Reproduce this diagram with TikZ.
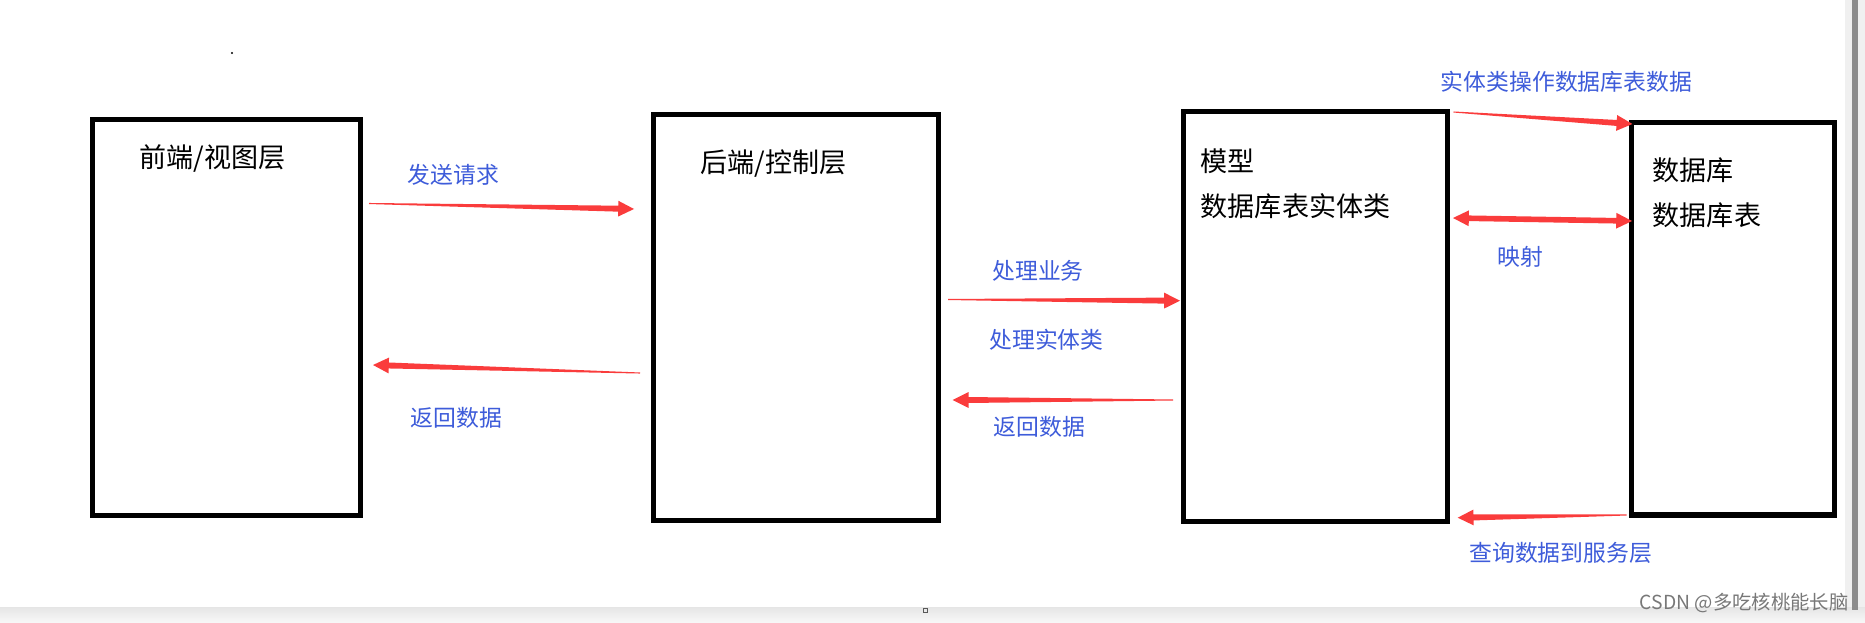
\documentclass[tikz,border=0pt]{standalone}
\usepackage{fontspec}
\setmainfont{Noto Sans CJK SC}
\usetikzlibrary{calc}
\definecolor{pRed}{RGB}{250,60,60}
\definecolor{pBlue}{RGB}{62,92,218}
\definecolor{pMark}{gray}{0.47}
\definecolor{pBar}{gray}{0.55}
\definecolor{pBand}{gray}{0.94}
\tikzset{
    layer/.style={draw, line width=2.9pt, inner sep=0pt},
    title/.style={anchor=west, inner sep=0pt, font=\fontsize{15.4}{18}\selectfont},
    note/.style={anchor=west, inner sep=0pt, text=pBlue, font=\fontsize{13}{16}\selectfont},
    flow/.style={fill=pRed, to path={
        -- ($(\tikztostart)!0.3pt!90:(\tikztotarget)$)
        -- ($(\tikztotarget)!9pt!(\tikztostart)!1.7pt!90:(\tikztotarget)$)
        -- ($(\tikztotarget)!9pt!(\tikztostart)!4.5pt!90:(\tikztotarget)$)
        -- (\tikztotarget)
        -- ($(\tikztotarget)!9pt!(\tikztostart)!4.5pt!-90:(\tikztotarget)$)
        -- ($(\tikztotarget)!9pt!(\tikztostart)!1.7pt!-90:(\tikztotarget)$)
        -- ($(\tikztostart)!0.3pt!-90:(\tikztotarget)$)
        -- cycle}},
    flows/.style={fill=pRed, to path={
        -- ($(\tikztostart)!9pt!(\tikztotarget)!4.5pt!90:(\tikztotarget)$)
        -- ($(\tikztostart)!9pt!(\tikztotarget)!1.6pt!90:(\tikztotarget)$)
        -- ($(\tikztotarget)!9pt!(\tikztostart)!1.6pt!90:(\tikztotarget)$)
        -- ($(\tikztotarget)!9pt!(\tikztostart)!4.5pt!90:(\tikztotarget)$)
        -- (\tikztotarget)
        -- ($(\tikztotarget)!9pt!(\tikztostart)!4.5pt!-90:(\tikztotarget)$)
        -- ($(\tikztotarget)!9pt!(\tikztostart)!1.6pt!-90:(\tikztotarget)$)
        -- ($(\tikztostart)!9pt!(\tikztotarget)!1.6pt!-90:(\tikztotarget)$)
        -- ($(\tikztostart)!9pt!(\tikztotarget)!4.5pt!-90:(\tikztotarget)$)
        -- cycle}}
}

\begin{document}
\begin{tikzpicture}[x=0.02cm,y=-0.02cm]
\useasboundingbox[fill=white] (0,0) rectangle (1865,622);
% window edges
\shade[top color=gray!20, bottom color=gray!6] (0,607) rectangle (1865,622);
\fill[pBand] (1845,0) rectangle (1865,607);
\fill[pBar] (1851.7,0) rectangle (1858.3,610);
\draw[gray!70!black, line width=0.6pt] (923.5,608.5) rectangle (927.5,612.5);
\fill (232,53) circle (0.6pt);
% layers
\node[layer, minimum width=5.354cm, minimum height=7.908cm] (front) at (226.35,317.5) {};
\node[layer, minimum width=5.7cm,   minimum height=8.114cm] (back)  at (796,317.35) {};
\node[layer, minimum width=5.28cm,  minimum height=8.194cm] (model) at (1315.5,316.35) {};
\node[layer, minimum width=4.054cm, minimum height=7.85cm]  (db)    at (1732.85,318.75) {};
\node[title] (frontT)  at (139,158)  {前端/视图层};
\node[title] (backT)   at (700.5,164) {后端/控制层};
\node[title] (modelT)  at (1200.5,161) {模型};
\node[title] (modelT2) at (1200.5,206) {数据库表实体类};
\node[title] (dbT)     at (1652.5,170) {数据库};
\node[title] (dbT2)    at (1652.5,215) {数据库表};
% labels
\node[note] (sendL)   at (407.5,175)  {发送请求};
\node[note] (backL)   at (410.5,418)  {返回数据};
\node[note] (workL)   at (992,270.5)  {处理业务};
\node[note] (entL)    at (989,340)    {处理实体类};
\node[note] (retL)    at (993.5,427)  {返回数据};
\node[note] (opL)     at (1440.5,81.7) {实体类操作数据库表数据};
\node[note] (mapL)    at (1497.5,257) {映射};
\node[note] (queryL)  at (1469,552.6) {查询数据到服务层};
\node[anchor=west, inner sep=0pt, text=pMark, font=\fontsize{11}{13}\selectfont] (mark) at (1639.5,603) {CSDN @多吃核桃能长脑};
% arrows
\coordinate (sendA)  at (369,203.5);
\coordinate (sendB)  at (634,209);
\coordinate (backA)  at (640,373);
\coordinate (backB)  at (373,365);
\coordinate (workA)  at (948,299.5);
\coordinate (workB)  at (1180,300.7);
\coordinate (retA)   at (1173,400);
\coordinate (retB)   at (952.7,400);
\coordinate (opA)    at (1453.5,112);
\coordinate (opB)    at (1632.4,124);
\coordinate (mapA)   at (1453,218);
\coordinate (mapB)   at (1632,221);
\coordinate (queryA) at (1626.5,515);
\coordinate (queryB) at (1457.7,517.7);
\fill[flow] (sendA) to (sendB);
\fill[flow] (backA) to (backB);
\fill[flow] (workA) to (workB);
\fill[flow] (retA) to (retB);
\fill[flow] (opA) to (opB);
\fill[flows] (mapA) to (mapB);
\fill[flow] (queryA) to (queryB);
\end{tikzpicture}
\end{document}
